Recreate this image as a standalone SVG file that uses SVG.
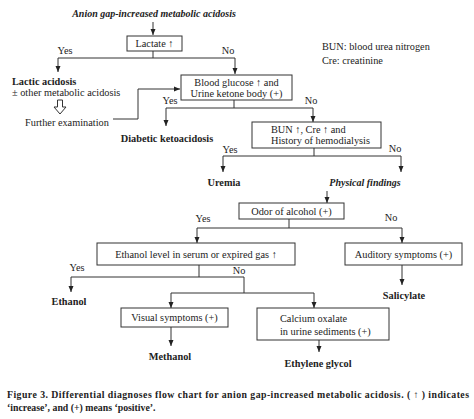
<svg xmlns="http://www.w3.org/2000/svg" width="474" height="419" viewBox="0 0 474 419">
<defs>
<marker id="ah" viewBox="0 0 6 6" refX="6" refY="3" markerWidth="6" markerHeight="6" markerUnits="userSpaceOnUse" orient="auto">
<path d="M0,0.5 L6,3 L0,5.5 Z" fill="#222"/>
</marker>
<style>
text{font-family:"Liberation Serif","Times New Roman",serif;fill:#222;font-size:10.3px}
.b{font-weight:bold}
.bi{font-weight:bold;font-style:italic;font-size:10px}
.m{text-anchor:middle}
.box{fill:#fff;stroke:#333;stroke-width:1}
.ln{fill:none;stroke:#333;stroke-width:1}
.cap{font-weight:bold;font-size:9.8px}
</style>
</defs>
<rect width="474" height="419" fill="#fff"/>
<g id="connectors">
<path class="ln" d="M153,22 V35" marker-end="url(#ah)"/>
<path class="ln" d="M153,51 V58 M58,58 H235"/>
<path class="ln" d="M58,58 V72" marker-end="url(#ah)"/>
<path class="ln" d="M235,58 V74" marker-end="url(#ah)"/>
<path class="ln" d="M113,119 H138 V89 H180" marker-end="url(#ah)"/>
<path class="ln" d="M234,100 V108 M166,108 H313"/>
<path class="ln" d="M166,108 V126" marker-end="url(#ah)"/>
<path class="ln" d="M313,108 V122" marker-end="url(#ah)"/>
<path class="ln" d="M314,148 V156 M223,156 H401"/>
<path class="ln" d="M223,156 V172" marker-end="url(#ah)"/>
<path class="ln" d="M401,156 V172" marker-end="url(#ah)"/>
<path class="ln" d="M327,191 V203" marker-end="url(#ah)"/>
<path class="ln" d="M289,219 V228 M197,228 H402"/>
<path class="ln" d="M197,228 V243" marker-end="url(#ah)"/>
<path class="ln" d="M402,228 V243" marker-end="url(#ah)"/>
<path class="ln" d="M199,265 V277 M71,277 H244 V293 M171,293 H314"/>
<path class="ln" d="M71,277 V292" marker-end="url(#ah)"/>
<path class="ln" d="M171,293 V308" marker-end="url(#ah)"/>
<path class="ln" d="M314,293 V308" marker-end="url(#ah)"/>
<path class="ln" d="M171,327 V346" marker-end="url(#ah)"/>
<path class="ln" d="M319,340 V352" marker-end="url(#ah)"/>
<path class="ln" d="M402,265 V285" marker-end="url(#ah)"/>
<polygon points="57.5,100 62.5,100 62.5,107 66,107 60,114 54,107 57.5,107" fill="none" stroke="#333" stroke-width="1"/>
</g>
<g id="labels">
<text x="65" y="54" class="m">Yes</text>
<text x="228" y="54" class="m">No</text>
<text x="170" y="104" class="m">Yes</text>
<text x="311" y="104" class="m">No</text>
<text x="230" y="153" class="m">Yes</text>
<text x="395" y="152" class="m">No</text>
<text x="203" y="222" class="m">Yes</text>
<text x="391" y="221" class="m">No</text>
<text x="77" y="271" class="m">Yes</text>
<text x="239" y="274" class="m">No</text>
</g>
<g id="title"><text x="154" y="17" class="bi m">Anion gap-increased metabolic acidosis</text></g>
<g id="legend">
<text x="322" y="50">BUN: blood urea nitrogen</text>
<text x="322" y="64">Cre: creatinine</text>
</g>
<g id="lactate"><rect class="box" x="127" y="36" width="55" height="15"/><text x="154.5" y="47" class="m">Lactate ↑</text></g>
<g id="lactic">
<text x="12" y="85" class="b">Lactic acidosis</text>
<text x="12" y="96">±  other metabolic acidosis</text>
<text x="25" y="126">Further examination</text>
</g>
<g id="glucose"><rect class="box" x="181" y="75" width="111" height="25"/><text x="236.5" y="86" class="m">Blood glucose ↑ and</text><text x="236.5" y="97" class="m">Urine ketone body (+)</text></g>
<g id="dka"><text x="167" y="142" class="b m">Diabetic ketoacidosis</text></g>
<g id="bun"><rect class="box" x="252" y="122" width="129" height="26"/><text x="271" y="133">BUN ↑, Cre ↑ and</text><text x="271" y="144">History of hemodialysis</text></g>
<g id="uremia"><text x="224" y="186" class="b m">Uremia</text></g>
<g id="physical"><text x="365" y="186" class="bi m">Physical findings</text></g>
<g id="odor"><rect class="box" x="239" y="203" width="105" height="16"/><text x="291.5" y="215" class="m">Odor of alcohol (+)</text></g>
<g id="ethlevel"><rect class="box" x="97" y="243" width="198" height="22"/><text x="196" y="258" class="m">Ethanol level in serum or expired gas ↑</text></g>
<g id="auditory"><rect class="box" x="345" y="243" width="117" height="22"/><text x="403.5" y="258" class="m">Auditory symptoms (+)</text></g>
<g id="ethanol"><text x="69" y="305" class="b m">Ethanol</text></g>
<g id="salicylate"><text x="404" y="299" class="b m">Salicylate</text></g>
<g id="visual"><rect class="box" x="121" y="308" width="107" height="19"/><text x="174.5" y="321" class="m">Visual symptoms (+)</text></g>
<g id="methanol"><text x="170" y="360" class="b m">Methanol</text></g>
<g id="calcium"><rect class="box" x="257" y="308" width="132" height="32"/><text x="280" y="322">Calcium oxalate</text><text x="280" y="335">in urine sediments (+)</text></g>
<g id="ethylene"><text x="318" y="367" class="b m">Ethylene glycol</text></g>
<g id="caption">
<text x="7" y="398" class="cap" textLength="462" lengthAdjust="spacing">Figure 3.  Differential diagnoses flow chart for anion gap-increased metabolic acidosis. ( ↑ ) indicates</text>
<text x="7" y="411" class="cap">‘increase’, and (+) means ‘positive’.</text>
</g>
</svg>
